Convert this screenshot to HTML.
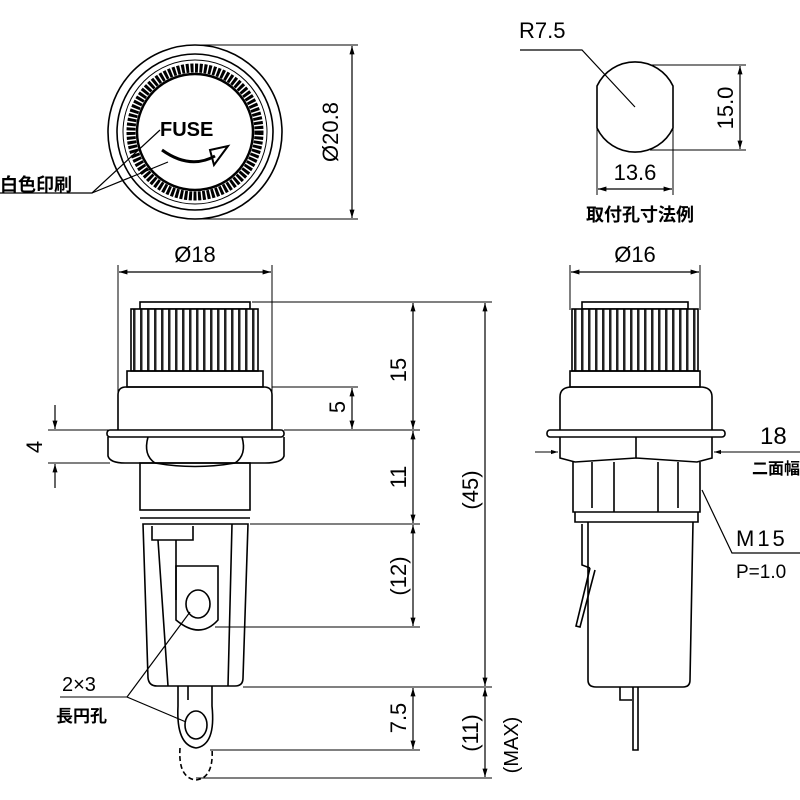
<!DOCTYPE html>
<html><head><meta charset="utf-8"><style>html,body{margin:0;background:#fff}svg{display:block}</style></head>
<body>
<svg width="800" height="800" viewBox="0 0 800 800" xmlns="http://www.w3.org/2000/svg" font-family="'Liberation Sans','Noto Sans CJK JP',sans-serif">
<defs>
<marker id="a" viewBox="0 0 10 10" refX="10" refY="5" markerWidth="7" markerHeight="7" orient="auto-start-reverse"><path d="M0,2 L10,5 L0,8z" fill="#000"/></marker>
<pattern id="kn" width="7" height="10" patternUnits="userSpaceOnUse"><rect width="7" height="10" fill="#fff"/><rect x="0" width="2.5" height="10" fill="#222"/></pattern>
</defs>
<g fill="none" stroke="#000" stroke-width="1.6">
<!-- top-left circle view -->
<circle cx="195" cy="132" r="87"/>
<circle cx="195" cy="132" r="78"/>
<circle cx="195" cy="132" r="72" stroke-width="1"/>
<circle cx="195" cy="132" r="64" stroke-width="9" stroke-dasharray="3 1.5"/>
<circle cx="195" cy="132" r="58" stroke-width="2.5"/>
<path d="M162,150 Q190,170 215,156" stroke-width="3"/>
<path d="M210,150 L228,146 L214,165z" stroke-width="2"/>
<line x1="195" y1="45" x2="358" y2="45" stroke-width="1"/>
<line x1="195" y1="219" x2="358" y2="219" stroke-width="1"/>
<line x1="352" y1="46" x2="352" y2="218" stroke-width="1.2" marker-start="url(#a)" marker-end="url(#a)"/>
<polyline points="0,193 92,193 160,130" stroke-width="1.2"/>
<line x1="92" y1="193" x2="168" y2="162" stroke-width="1.2"/>

<!-- top-right hole -->
<path d="M597,86 A42,42 0 0 1 673,86 L673,128 A42,42 0 0 1 597,128 Z"/>
<polyline points="520,50 582,50 635,107" stroke-width="1.2"/>
<line x1="650" y1="65" x2="746" y2="65" stroke-width="1"/>
<line x1="650" y1="150" x2="746" y2="150" stroke-width="1"/>
<line x1="740" y1="66" x2="740" y2="149" stroke-width="1.2" marker-start="url(#a)" marker-end="url(#a)"/>
<line x1="597" y1="128" x2="597" y2="195" stroke-width="1"/>
<line x1="673" y1="128" x2="673" y2="195" stroke-width="1"/>
<line x1="598" y1="189" x2="672" y2="189" stroke-width="1.2" marker-start="url(#a)" marker-end="url(#a)"/>

<!-- left side view -->
<line x1="118" y1="265" x2="118" y2="400" stroke-width="1"/>
<line x1="272" y1="265" x2="272" y2="400" stroke-width="1"/>
<line x1="119" y1="272" x2="271" y2="272" stroke-width="1.2" marker-start="url(#a)" marker-end="url(#a)"/>
<rect x="140" y="302" width="110" height="7"/>
<rect x="131" y="309" width="127" height="62" fill="url(#kn)"/>
<rect x="127" y="371" width="136" height="16"/>
<path d="M118,430 L118,395 Q118,387 126,387 L264,387 Q272,387 272,395 L272,430"/>
<rect x="107" y="430" width="177" height="7" rx="3"/>
<path d="M108,437 L108,456 Q110,463 125,463 L265,463 Q282,463 284,456 L284,437"/>
<path d="M148,437 Q143,455 155,463 M242,437 Q247,455 235,463 M155,463 Q195,470 235,463"/>
<rect x="140" y="463" width="110" height="47"/>
<line x1="140" y1="518" x2="250" y2="518"/>
<path d="M143,524 L148,678 Q149,686 157,686 L235,686 Q243,686 243,678 L248,524 Z"/>
<path d="M152,526 L152,540 L193,540 L193,526 M158,540 L168,686 M176,540 L176,600 M232,524 L228,686"/>
<path d="M176,566 L218,566 L218,620 Q200,640 176,620 Z"/>
<ellipse cx="198" cy="604" rx="12" ry="14"/>
<path d="M178,686 L178,706 Q176,745 196,748 Q216,745 212,706 L212,686"/>
<ellipse cx="196" cy="725" rx="11" ry="14"/>
<path d="M180,748 Q178,778 196,780 Q214,778 212,748" stroke-dasharray="5 3"/>
<line x1="188" y1="686" x2="188" y2="700"/>
<polyline points="127,697 190,612" stroke-width="1.2"/>
<line x1="127" y1="697" x2="186" y2="722" stroke-width="1.2"/>
<line x1="60" y1="697" x2="127" y2="697" stroke-width="1"/>
<!-- 4 dim -->
<line x1="48" y1="430" x2="110" y2="430" stroke-width="1"/>
<line x1="48" y1="463" x2="110" y2="463" stroke-width="1"/>
<line x1="55" y1="405" x2="55" y2="429" stroke-width="1.2" marker-end="url(#a)"/>
<line x1="55" y1="488" x2="55" y2="464" stroke-width="1.2" marker-end="url(#a)"/>

<!-- right-column dims -->
<g stroke-width="1">
<line x1="252" y1="302" x2="492" y2="302"/>
<line x1="272" y1="387" x2="358" y2="387"/>
<line x1="284" y1="430" x2="420" y2="430"/>
<line x1="250" y1="524" x2="420" y2="524"/>
<line x1="215" y1="627" x2="420" y2="627"/>
<line x1="243" y1="687" x2="492" y2="687"/>
<line x1="210" y1="750" x2="420" y2="750"/>
<line x1="196" y1="778" x2="492" y2="778"/>
</g>
<g stroke-width="1.2">
<line x1="352" y1="388" x2="352" y2="429" marker-start="url(#a)" marker-end="url(#a)"/>
<line x1="413" y1="303" x2="413" y2="429" marker-start="url(#a)" marker-end="url(#a)"/>
<line x1="413" y1="431" x2="413" y2="523" marker-start="url(#a)" marker-end="url(#a)"/>
<line x1="413" y1="525" x2="413" y2="626" marker-start="url(#a)" marker-end="url(#a)"/>
<line x1="413" y1="688" x2="413" y2="749" marker-start="url(#a)" marker-end="url(#a)"/>
<line x1="485" y1="303" x2="485" y2="686" marker-start="url(#a)" marker-end="url(#a)"/>
<line x1="485" y1="688" x2="485" y2="777" marker-start="url(#a)" marker-end="url(#a)"/>
</g>

<!-- right side view -->
<line x1="570" y1="265" x2="570" y2="310" stroke-width="1"/>
<line x1="700" y1="265" x2="700" y2="310" stroke-width="1"/>
<line x1="571" y1="272" x2="699" y2="272" stroke-width="1.2" marker-start="url(#a)" marker-end="url(#a)"/>
<rect x="582" y="302" width="106" height="7"/>
<rect x="572" y="309" width="126" height="62" fill="url(#kn)"/>
<rect x="570" y="371" width="130" height="16"/>
<path d="M560,430 L560,397 Q560,387 572,387 L700,387 Q712,387 712,397 L712,430"/>
<rect x="547" y="430" width="178" height="7" rx="3"/>
<path d="M560,437 L560,458 L575,462 L636,458 L697,462 L712,458 L712,437 M636,437 L636,458"/>
<path d="M573,462 L573,512 L700,512 L700,462 M592,462 L592,508 M614,462 L614,512 M658,462 L658,512 M678,462 L678,508"/>
<path d="M575,512 L575,522 L698,522 L698,512"/>
<path d="M588,522 L588,680 Q588,687 596,687 L683,687 Q690,687 690,680 L693,522"/>
<path d="M582,524 L582,565 L590,568 M590,568 L576,626 L580,627 L595,570"/>
<path d="M620,687 L620,700 L632,700 M633,687 L633,750 L638,750 L638,687"/>
<line x1="535" y1="452" x2="558" y2="452" stroke-width="1" marker-end="url(#a)"/>
<line x1="800" y1="452" x2="714" y2="452" stroke-width="1" marker-end="url(#a)"/>
<polyline points="702,490 732,553 800,553" stroke-width="1.2"/>
</g>

<g font-size="22" fill="#000">
<text x="160" y="136" font-weight="bold" font-size="20" fill="#000">FUSE</text>
<text x="0" y="191" font-size="18" font-weight="bold">白色印刷</text>
<text transform="translate(338,132) rotate(-90)" text-anchor="middle">Ø20.8</text>
<text x="519" y="38">R7.5</text>
<text transform="translate(733,108) rotate(-90)" text-anchor="middle">15.0</text>
<text x="635" y="180" text-anchor="middle">13.6</text>
<text x="640" y="221" text-anchor="middle" font-size="18" font-weight="bold">取付孔寸法例</text>
<text x="195" y="262" text-anchor="middle">Ø18</text>
<text x="635" y="262" text-anchor="middle">Ø16</text>
<text transform="translate(42,447) rotate(-90)" text-anchor="middle">4</text>
<text transform="translate(406,370) rotate(-90)" text-anchor="middle">15</text>
<text transform="translate(345,407) rotate(-90)" text-anchor="middle">5</text>
<text transform="translate(406,477) rotate(-90)" text-anchor="middle">11</text>
<text transform="translate(406,576) rotate(-90)" text-anchor="middle">(12)</text>
<text transform="translate(406,718) rotate(-90)" text-anchor="middle">7.5</text>
<text transform="translate(478,490) rotate(-90)" text-anchor="middle">(45)</text>
<text transform="translate(478,733) rotate(-90)" text-anchor="middle">(11)</text>
<text transform="translate(518,745) rotate(-90)" text-anchor="middle" font-size="20">(MAX)</text>
<text x="760" y="444" font-size="24">18</text>
<text x="752" y="474" font-size="16" font-weight="bold">二面幅</text>
<text x="736" y="546" font-size="22" letter-spacing="3">M15</text>
<text x="736" y="578" font-size="19">P=1.0</text>
<text x="62" y="691" font-size="20">2×3</text>
<text x="56" y="722" font-size="17" font-weight="bold">長円孔</text>
</g>
</svg>
</body></html>
